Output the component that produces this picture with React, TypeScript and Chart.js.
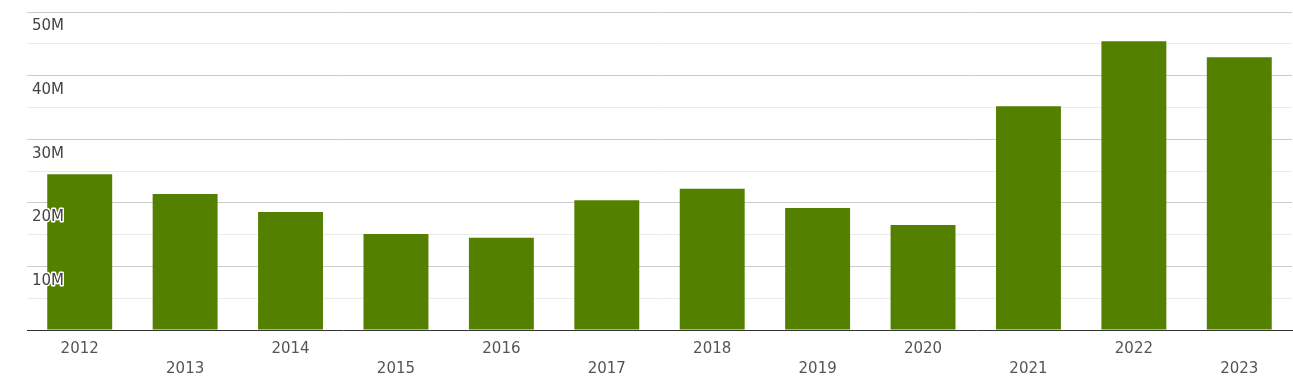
import React, { useEffect, useRef } from "react";
import { Chart, registerables } from "chart.js";

Chart.register(...registerables);

const years = ["2012", "2013", "2014", "2015", "2016", "2017", "2018", "2019", "2020", "2021", "2022", "2023"];
const values = [24.5e6, 21.4e6, 18.55e6, 15.1e6, 14.5e6, 20.4e6, 22.2e6, 19.2e6, 16.5e6, 35.2e6, 45.4e6, 42.9e6];
const yMax = 50e6;
const yStep = 5e6;

const roundJoin = {
  id: "roundJoin",
  afterDatasetsDraw(chart: any) {
    chart.ctx.lineJoin = "round";
  },
};

export default function App() {
  const ref = useRef<HTMLCanvasElement | null>(null);

  useEffect(() => {
    document.body.style.margin = "0";
    if (!ref.current) return;
    const labels = years.map((y, i) => (i % 2 === 0 ? [y] : ["", y]));
    const chart = new Chart(ref.current, {
      type: "bar",
      data: {
        labels,
        datasets: [
          {
            data: values,
            backgroundColor: "#548000",
            borderWidth: 0,
            categoryPercentage: 1,
            barPercentage: 0.616,
          },
        ],
      },
      plugins: [roundJoin],
      options: {
        animation: false,
        responsive: false,
        maintainAspectRatio: false,
        layout: { padding: { top: 12, left: 17, right: 1, bottom: -4 } },
        plugins: { legend: { display: false }, tooltip: { enabled: false } },
        scales: {
          x: {
            grid: { display: false, drawTicks: false },
            border: { display: true, color: "#333", width: 1 },
            ticks: {
              autoSkip: false,
              maxRotation: 0,
              minRotation: 0,
              padding: 9,
              color: "#555",
              font: { family: "DejaVu Sans", size: 15, lineHeight: "20px" },
            },
          },
          y: {
            min: 0,
            max: yMax,
            border: { display: false },
            afterFit: (scale: any) => {
              scale.paddingTop = 0;
            },
            grid: {
              drawTicks: false,
              color: (ctx: any) => (ctx.tick && ctx.tick.value % 10e6 === 0 ? "#cccccc" : "#ebebeb"),
              lineWidth: 1,
            },
            ticks: {
              stepSize: yStep,
              mirror: true,
              padding: 5,
              labelOffset: 14.5,
              z: 1,
              color: "#444",
              textStrokeColor: "#ffffff",
              textStrokeWidth: 3,
              font: { family: "DejaVu Sans", size: 15 },
              callback: (v: any) => (v > 0 && v % 10e6 === 0 ? `${v / 1e6}M` : ""),
            },
          },
        },
      },
    });
    return () => chart.destroy();
  }, []);

  return (
    <div style={{ width: 1293, height: 384 }}>
      <canvas ref={ref} width={1293} height={384} style={{ display: "block" }} />
    </div>
  );
}
